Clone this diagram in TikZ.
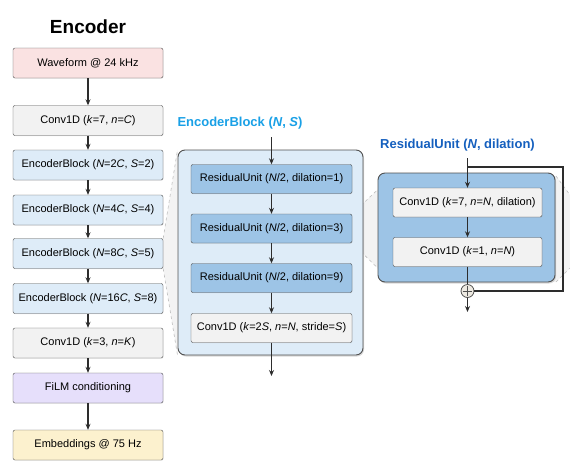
\documentclass[tikz,border=0pt]{standalone}
\usepackage{fontspec}
\setmainfont{Liberation Sans}
\usepackage{tikz}
\usepackage{xcolor}
\usetikzlibrary{arrows.meta,shadows,backgrounds}

\definecolor{edgeC}{RGB}{80,80,80}
\definecolor{arrC}{RGB}{45,45,45}
\definecolor{pinkF}{RGB}{250,226,226}
\definecolor{grayF}{RGB}{242,242,242}
\definecolor{paleF}{RGB}{222,236,248}
\definecolor{midF}{RGB}{157,196,230}
\definecolor{lavF}{RGB}{230,223,251}
\definecolor{yelF}{RGB}{252,241,206}
\definecolor{zoomF}{RGB}{243,243,243}
\definecolor{zoomD}{RGB}{190,190,190}
\definecolor{cyanT}{RGB}{25,160,230}
\definecolor{blueT}{RGB}{20,95,190}
\definecolor{sumF}{RGB}{238,234,226}

\begin{document}
\begin{tikzpicture}[x=1pt,y=-1pt,
    box/.style={draw=edgeC,rounded corners=2pt,minimum width=150,minimum height=30,inner xsep=1pt,
        font=\fontsize{11}{13}\selectfont,drop shadow={shadow xshift=0.5pt,shadow yshift=-0.7pt,opacity=0.18}},
    unit/.style={box,minimum width=161,minimum height=29},
    panel/.style={draw=edgeC,line width=0.9pt,rounded corners=7pt,
        drop shadow={shadow xshift=1pt,shadow yshift=-1.5pt,opacity=0.3}},
    heading/.style={font=\bfseries\fontsize{13}{15}\selectfont},
    flow/.style={draw=arrC,line width=1.2pt,-{Stealth[length=6pt,width=5pt]}},
    link/.style={draw=arrC,line width=1.2pt}]
        \useasboundingbox (0,0) rectangle (570,469);

        \node[font=\bfseries\fontsize{19}{22}\selectfont] (encTitle) at (88,27) {Encoder};
        \node[box,fill=pinkF] (wave) at (88,63) {Waveform @ 24 kHz};
        \node[box,fill=grayF] (convIn) at (88,120.5) {Conv1D (\textit{k}=7, \textit{n}=\textit{C})};
        \node[box,fill=paleF] (eb2) at (88,165) {EncoderBlock (\textit{N}=2\textit{C}, \textit{S}=2)};
        \node[box,fill=paleF] (eb4) at (88,210) {EncoderBlock (\textit{N}=4\textit{C}, \textit{S}=4)};
        \node[box,fill=paleF] (eb8) at (88,253.5) {EncoderBlock (\textit{N}=8\textit{C}, \textit{S}=5)};
        \node[box,fill=paleF] (eb16) at (88,298.5) {EncoderBlock (\textit{N}=16\textit{C}, \textit{S}=8)};
        \node[box,fill=grayF] (convOut) at (88,343) {Conv1D (\textit{k}=3, \textit{n}=\textit{K})};
        \node[box,fill=lavF] (film) at (88,388) {FiLM conditioning};
        \node[box,fill=yelF] (embed) at (88,445) {Embeddings @ 75 Hz};
        \foreach \a/\b in {wave/convIn,convIn/eb2,eb2/eb4,eb4/eb8,eb8/eb16,eb16/convOut,convOut/film,film/embed}
            \draw[flow] (\a) -- (\b);

        \node[panel,fill=paleF,minimum width=185,minimum height=205] (ebPanel) at (270.5,252.5) {};
        \node[heading,text=cyanT] (ebTitle) at (240,123) {EncoderBlock (\textit{N}, \textit{S})};
        \node[unit,fill=midF] (ru1) at (271.5,179) {ResidualUnit (\textit{N}/2, dilation=1)};
        \node[unit,fill=midF] (ru3) at (271.5,228.5) {ResidualUnit (\textit{N}/2, dilation=3)};
        \node[unit,fill=midF] (ru9) at (271.5,278) {ResidualUnit (\textit{N}/2, dilation=9)};
        \node[unit,fill=grayF] (convS) at (271.5,328) {Conv1D (\textit{k}=2\textit{S}, \textit{n}=\textit{N}, stride=\textit{S})};
        \coordinate (ebIn) at (271.5,137);
        \coordinate (ebOut) at (271.5,376);
        \draw[flow] (ebIn) -- (ru1);
        \draw[flow] (ru1) -- (ru3);
        \draw[flow] (ru3) -- (ru9);
        \draw[flow] (ru9) -- (convS);
        \draw[flow] (convS) -- (ebOut);

        \node[panel,fill=midF,minimum width=177,minimum height=109] (ruPanel) at (466.5,227.5) {};
        \node[heading,text=blueT] (ruTitle) at (457.5,145) {ResidualUnit (\textit{N}, dilation)};
        \node[box,fill=grayF,minimum width=149,minimum height=29] (convA) at (467.5,202.5) {Conv1D (\textit{k}=7, \textit{n}=\textit{N}, dilation)};
        \node[box,fill=grayF,minimum width=149,minimum height=29] (convB) at (467.5,252) {Conv1D (\textit{k}=1, \textit{n}=\textit{N})};
        \node[draw=edgeC,fill=sumF,circle,minimum size=13,inner sep=0pt,line width=0.8pt] (sum) at (467.5,291) {};
        \draw[edgeC,line width=0.8pt] ([yshift=-2pt]sum.north) -- ([yshift=2pt]sum.south)
            ([xshift=2pt]sum.west) -- ([xshift=-2pt]sum.east);
        \coordinate (ruIn) at (467.5,158);
        \coordinate (skip) at (467.5,167);
        \coordinate (skipR) at (563,230);
        \coordinate (ruOut) at (467.5,312);
        \draw[flow] (ruIn) -- (convA);
        \draw[flow] (convA) -- (convB);
        \draw[link] (convB) -- (sum);
        \draw[link] (skip) -| (skipR) |- (sum);
        \draw[flow] (sum) -- (ruOut);

        \begin{scope}[on background layer]
            \fill[zoomF] (eb8.north east) -- (ebPanel.north west) -- (ebPanel.south west) -- (eb8.south east) -- cycle;
            \draw[zoomD,dashed,line width=0.6pt] (eb8.north east) -- (ebPanel.north west) (eb8.south east) -- (ebPanel.south west);
            \fill[zoomF] (ru3.north east) -- (392,176) -- (556,176) -- (570,195) -- (570,268) -- (556,282) -- (392,282) -- (ru3.south east) -- cycle;
            \draw[zoomD,dashed,line width=0.6pt] (ru3.north east) -- (392,176) (ru3.south east) -- (392,282)
                (556,176) -- (570,195) (556,282) -- (570,268);
        \end{scope}
    \end{tikzpicture}
\end{document}
